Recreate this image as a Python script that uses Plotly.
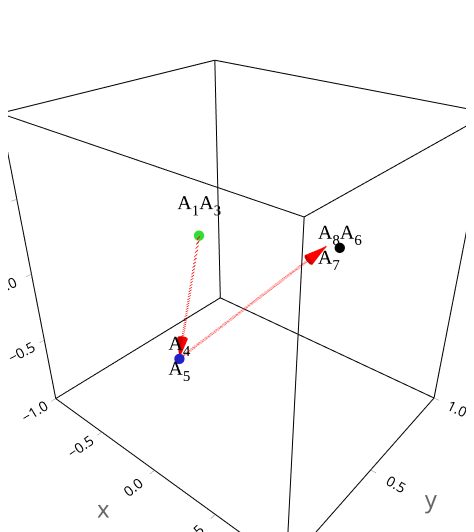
import plotly.graph_objects as go
import itertools

# points (x, y, rho)
green = (-0.3, 0.45, 0.2)
blue = (0.1, 0.1, -0.2)
black = (0.45, 0.7, 0.2)
red_tip = (0.38, 0.68, 0.2)
labels_green = ["A<sub>1</sub>A<sub>3</sub>"]
labels_blue = ["A<sub>4</sub><br>A<sub>5</sub>"]
labels_black = ["A<sub>8</sub>A<sub>6</sub><br>A<sub>7</sub>"]
xrange_ = [-1.0, 1.0]
yrange_ = [0.0, 1.0]
zrange_ = [-1.0, 1.0]
xticks = [-1.0, -0.5, 0.0, 0.5, 1.0]
yticks = [0.0, 0.5, 1.0]
zticks = [-1.0, -0.5, 0.0, 0.5, 1.0]

fig = go.Figure()
# box edges from axis ranges
corners = list(itertools.product(xrange_, yrange_, zrange_))
for a, b in itertools.combinations(corners, 2):
    if sum(a[i] != b[i] for i in range(3)) == 1:
        fig.add_trace(go.Scatter3d(x=[a[0], b[0]], y=[a[1], b[1]], z=[a[2], b[2]], mode="lines",
                                   line=dict(color="black", width=2), showlegend=False, hoverinfo="skip"))

def seg(a, b):
    fig.add_trace(go.Scatter3d(x=[a[0], b[0]], y=[a[1], b[1]], z=[a[2], b[2]], mode="lines",
                               line=dict(color="red", width=5, dash="dot"), showlegend=False))
    d = [b[i]-a[i] for i in range(3)]
    fig.add_trace(go.Cone(x=[b[0]], y=[b[1]], z=[b[2]], u=[d[0]], v=[d[1]], w=[d[2]],
                          anchor="tip", sizemode="absolute", sizeref=0.1, showscale=False,
                          colorscale=[[0, "red"], [1, "red"]]))
seg(green, blue)
seg(blue, red_tip)
for p, c, t, pos in [(green, "#33dd33", labels_green, "top center"), (blue, "#2222cc", labels_blue, "middle center"),
                     (black, "black", labels_black, "middle center")]:
    fig.add_trace(go.Scatter3d(x=[p[0]], y=[p[1]], z=[p[2]], mode="markers+text", text=t,
                               textposition=pos, marker=dict(size=6, color=c),
                               textfont=dict(family="Liberation Serif", size=20, color="black"),
                               showlegend=False))

ax = dict(showgrid=False, showbackground=False, showline=False, zeroline=False, ticks="outside",
          tickcolor="#888", tickfont=dict(family="Open Sans", size=13, color="black"), showspikes=False)
fig.update_layout(
    width=474, height=532, margin=dict(l=0, r=0, t=0, b=0), paper_bgcolor="white",
    scene=dict(
        xaxis=dict(ax, range=xrange_, tickvals=xticks, tickformat=".1f", title=dict(text="x", font=dict(size=24, color="#666"))),
        yaxis=dict(ax, range=yrange_, tickvals=yticks, tickformat=".1f", title=dict(text="y", font=dict(size=24, color="#666"))),
        zaxis=dict(ax, range=zrange_, tickvals=zticks, tickformat=".1f", title=dict(text="<b>ρ</b>", font=dict(size=24, color="#666"))),
        aspectmode="manual", aspectratio=dict(x=1, y=0.85, z=1),
        camera=dict(eye=dict(x=1.1, y=-1.3, z=1.0), up=dict(x=0, y=0, z=1)),
    ),
)
fig.write_html("out.html")
